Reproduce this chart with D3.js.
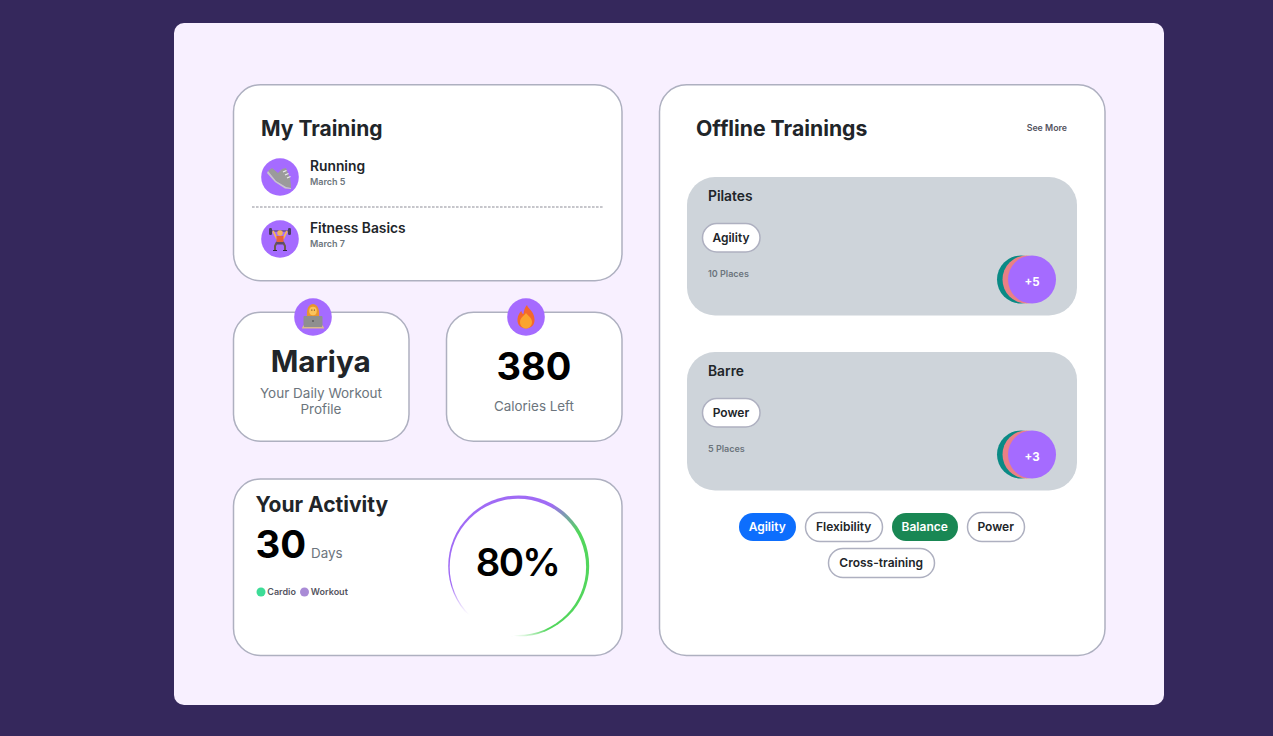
<!DOCTYPE html>
<html>
<head>
<meta charset="utf-8">
<script src="https://cdn.jsdelivr.net/npm/d3@7"></script>
<style>
  html, body { margin: 0; padding: 0; background: #35285c; overflow: hidden; }
  svg { display: block; }
  text { font-family: Inter, "Noto Sans", sans-serif; }
</style>
</head>
<body>
<div id="chart"></div>
<script>
// values
var trainingNames = ["Running", "Fitness Basics"];
var trainingDates = ["March 5", "March 7"];
var profileName = "Mariya";
var profileLines = ["Your Daily Workout", "Profile"];
var calories = 380;
var activityDays = 30;
var activityPercent = 80;
var legendLabels = ["Cardio", "Workout"];
var legendColors = ["#3ddc97", "#a98bd6"];
var offlineNames = ["Pilates", "Barre"];
var offlineTags = ["Agility", "Power"];
var offlinePlaces = [10, 5];
var offlineExtra = [5, 3];
var avatarColors = ["#0a8a85", "#ea8085", "#a56bff"];
var chipLabels = ["Agility", "Flexibility", "Balance", "Power", "Cross-training"];
var chipFills = ["#0d6efd", "#ffffff", "#198754", "#ffffff", "#ffffff"];
var chipText = ["#ffffff", "#212529", "#ffffff", "#212529", "#212529"];

var DARK = "#212529", MUTED = "#6c757d", BORDER = "#aeb0c0", PURPLE = "#a56bff";

var svg = d3.select("#chart").append("svg")
    .attr("width", 1273)
    .attr("height", 736);

function card(x, y, w, h, r, fill, stroke) {
  return svg.append("rect")
      .attr("x", x).attr("y", y)
      .attr("width", w).attr("height", h)
      .attr("rx", r).attr("ry", r)
      .attr("fill", fill)
      .attr("stroke", stroke || "none")
      .attr("stroke-width", stroke ? 1.5 : 0);
}

function label(x, y, str, size, weight, color, anchor) {
  return svg.append("text")
      .attr("x", x).attr("y", y)
      .attr("font-size", size)
      .attr("font-weight", weight)
      .attr("fill", color)
      .attr("text-anchor", anchor || "start")
      .text(str);
}

function pill(x, y, w, h, str, fill, color, stroke) {
  card(x, y, w, h, h / 2, fill, stroke);
  label(x + w / 2 - 0.3, y + h / 2 + 4.3, str, 12, 600, color, "middle");
}

// small pictograms, drawn around the middle of the purple badge
function badge(cx, cy) {
  svg.append("circle").attr("cx", cx).attr("cy", cy).attr("r", 18.8).attr("fill", PURPLE);
  return svg.append("g").attr("transform", "translate(" + cx + "," + cy + ")");
}

function iconShoe(g) {
  g.append("path")
      .attr("d", "M-12,-6 L-8,-9 L-2,-4 L2,-8 L6,-9 L10,1 L11,8 L11,11 L6,10 L-4,4 Z")
      .attr("fill", "#9b9b9b");
  g.append("path").attr("d", "M-12,-6 L-4,4 L6,10 L11,11 L11,12 L5,11.5 L-5,5 L-13,-4 Z").attr("fill", "#c9c9c9");
  [[3, -5], [5, -2], [7, 1]].forEach(function (p) {
    g.append("line").attr("x1", p[0]).attr("y1", p[1]).attr("x2", p[0] + 3.5).attr("y2", p[1] - 1.5)
        .attr("stroke", "#eeeeee").attr("stroke-width", 1.2);
  });
}

function iconLifter(g) {
  g.append("line").attr("x1", -9).attr("y1", -8).attr("x2", 9).attr("y2", -8).attr("stroke", "#5b4a6e").attr("stroke-width", 1.2);
  g.append("rect").attr("x", -11).attr("y", -11).attr("width", 3).attr("height", 7).attr("rx", 1.2).attr("fill", "#4a3f5c");
  g.append("rect").attr("x", 8).attr("y", -11).attr("width", 3).attr("height", 7).attr("rx", 1.2).attr("fill", "#4a3f5c");
  g.append("path").attr("d", "M-7,-8 L-4,-2 L-3,0 M7,-8 L4,-2 L3,0").attr("stroke", "#f5b45c").attr("stroke-width", 1.8).attr("fill", "none");
  g.append("circle").attr("cx", 0).attr("cy", -6).attr("r", 2.8).attr("fill", "#f5b45c");
  g.append("rect").attr("x", -3.5).attr("y", -3).attr("width", 7).attr("height", 6.5).attr("fill", "#e8613c");
  g.append("path").attr("d", "M-3,3 L-5,7 L-5,11 M3,3 L5,7 L5,11").attr("stroke", "#6d5a4a").attr("stroke-width", 2).attr("fill", "none");
  g.append("rect").attr("x", -3.5).attr("y", 3).attr("width", 7).attr("height", 2.5).attr("fill", "#5b4a6e");
  g.append("path").attr("d", "M-7,11.5 h4 M3,11.5 h4").attr("stroke", "#33283f").attr("stroke-width", 1.2);
}

function iconWoman(g) {
  g.append("path")
      .attr("d", "M-6,0 C-7,-10 -3,-13 0,-13 C3,-13 7,-10 6,0 Z")
      .attr("fill", "#e8952f");
  g.append("ellipse").attr("cx", 0).attr("cy", -6).attr("rx", 3.8).attr("ry", 4.2).attr("fill", "#fbc35c");
  g.append("rect").attr("x", -1.6).attr("y", -7.5).attr("width", 0.9).attr("height", 1.2).attr("fill", "#5a3b1c");
  g.append("rect").attr("x", 0.9).attr("y", -7.5).attr("width", 0.9).attr("height", 1.2).attr("fill", "#5a3b1c");
  g.append("rect").attr("x", -9.5).attr("y", -1).attr("width", 19).attr("height", 11).attr("rx", 1).attr("fill", "#8f8f8f");
  g.append("circle").attr("cx", 0).attr("cy", 4).attr("r", 1).attr("fill", "#5d5d5d");
  g.append("path").attr("d", "M-11,10.5 L-9,8 L-9,10 L9,10 L9,8 L11,10.5 L11,11.5 L-11,11.5 Z").attr("fill", "#d9b98a");
}

function iconFire(g) {
  g.append("path")
      .attr("d", "M1,-12 C2,-8 8,-6 8.5,2 C9,8 5,11.5 0,11.5 C-5,11.5 -9,8 -8.5,2 C-8.2,-2 -6,-5 -4.5,-6 C-4.5,-4 -3.5,-3 -2.5,-3 C-2,-7 -1,-10 1,-12 Z")
      .attr("fill", "#f4682c");
  g.append("path")
      .attr("d", "M0,-4 C2,-1.5 6,1 6,5 C6,9 3,11.5 0,11.5 C-3,11.5 -6,9 -6,5 C-6,1 -2,-1.5 0,-4 Z")
      .attr("fill", "#fba42e");
}

// page panel
card(174, 23, 990, 682, 10, "#f8f0ff");

// my training
card(233.5, 84.75, 388.5, 196, 27, "#ffffff", BORDER);
label(261, 136, "My Training", 21, 650, DARK);

var trainingY = d3.scalePoint().domain(trainingNames).range([177, 239]);
var trainingIcons = [iconShoe, iconLifter];
trainingNames.forEach(function (name, i) {
  var cy = trainingY(name);
  trainingIcons[i](badge(280, cy));
  label(310, cy - 6, name, 13.8, 600, DARK);
  label(310, cy + 8, trainingDates[i], 9, 600, MUTED);
});
svg.append("line")
    .attr("x1", 252).attr("x2", 603)
    .attr("y1", 207).attr("y2", 207)
    .attr("stroke", "#b4b4ba").attr("stroke-width", 1.5)
    .attr("stroke-dasharray", "2.6 1.4");

// profile + calories
card(233.5, 312.25, 175.5, 129, 27, "#ffffff", BORDER);
card(446.5, 312.25, 175.5, 129, 27, "#ffffff", BORDER);
iconWoman(badge(313, 317));
iconFire(badge(526, 317));
label(320.7, 372, profileName, 29.7, 700, DARK, "middle");
profileLines.forEach(function (line, i) {
  label(321, 398 + i * 16, line, 13.5, 400, MUTED, "middle");
});
label(534, 380, calories, 38, 700, "#000000", "middle");
label(534, 411, "Calories Left", 13.4, 400, MUTED, "middle");

// activity
card(233.5, 479, 388.5, 176.5, 27, "#ffffff", BORDER);
label(255.5, 512, "Your Activity", 21, 650, DARK);
label(255.5, 558, activityDays, 38.4, 700, "#000000");
label(311, 558, "Days", 13.4, 400, MUTED);

var legendX = [261, 304.5];
legendLabels.forEach(function (name, i) {
  svg.append("circle").attr("cx", legendX[i]).attr("cy", 592).attr("r", 4.5).attr("fill", legendColors[i]);
  label(legendX[i] + 6.3, 595, name, 9, 600, "#55555f");
});

// ring: gradient disc with an off-centre white disc on top, then a white fade over the lower left
var defs = svg.append("defs");
var grad = defs.append("linearGradient")
    .attr("id", "ring")
    .attr("gradientUnits", "userSpaceOnUse")
    .attr("x1", 490).attr("y1", 548)
    .attr("x2", 560).attr("y2", 592);
grad.append("stop").attr("offset", "0.35").attr("stop-color", "#a06bf5");
grad.append("stop").attr("offset", "0.8").attr("stop-color", "#52d65c");

var fade = defs.append("linearGradient")
    .attr("id", "ringFade")
    .attr("gradientUnits", "userSpaceOnUse")
    .attr("x1", 499.6).attr("y1", 607)
    .attr("x2", 489.1).attr("y2", 629.7);
fade.append("stop").attr("offset", "0").attr("stop-color", "#ffffff").attr("stop-opacity", 0);
fade.append("stop").attr("offset", "0.8").attr("stop-color", "#ffffff").attr("stop-opacity", 1);

svg.append("circle").attr("cx", 518.7).attr("cy", 566).attr("r", 70.5).attr("fill", "url(#ring)");
svg.append("circle").attr("cx", 517.9).attr("cy", 566.9).attr("r", 68.2).attr("fill", "#ffffff");
svg.append("circle").attr("cx", 518.7).attr("cy", 566).attr("r", 69.5)
    .attr("fill", "none").attr("stroke", "url(#ringFade)").attr("stroke-width", 3.5);
label(517.5, 575.7, activityPercent + "%", 38.4, 600, "#000000", "middle")
    .attr("letter-spacing", -1.6);

// offline trainings
card(659.5, 84.75, 445.5, 570.75, 27, "#ffffff", BORDER);
label(696, 136, "Offline Trainings", 21.2, 650, DARK);
label(1067, 131, "See More", 8.8, 600, "#55555f", "end");

var offlineY = d3.scalePoint().domain(offlineNames).range([177, 352]);
var avatarX = [1021, 1026.5, 1032];
offlineNames.forEach(function (name, i) {
  var top = offlineY(name);
  card(687, top, 390, 138.5, 28, "#ced4da");
  label(708, top + 24, name, 13.8, 600, DARK);
  pill(702.5, top + 46.5, 57.5, 28.5, offlineTags[i], "#ffffff", DARK, BORDER);
  label(708, top + 100, offlinePlaces[i] + " Places", 9, 600, MUTED);
  avatarColors.forEach(function (c, j) {
    svg.append("circle").attr("cx", avatarX[j]).attr("cy", top + 102.5).attr("r", 24).attr("fill", c);
  });
  label(1032, top + 109, "+" + offlineExtra[i], 11.5, 700, "#ffffff", "middle");
});

// chips under the cards
var chipX = [739, 805.5, 892, 967.5, 828.5];
var chipW = [57, 77, 66, 57, 106];
var chipY = [513, 512.5, 513, 512.5, 548.5];
chipLabels.forEach(function (name, i) {
  var outlined = chipFills[i] === "#ffffff";
  pill(chipX[i], chipY[i], chipW[i], outlined ? 29 : 28, name, chipFills[i], chipText[i], outlined ? BORDER : null);
});
</script>
</body>
</html>
